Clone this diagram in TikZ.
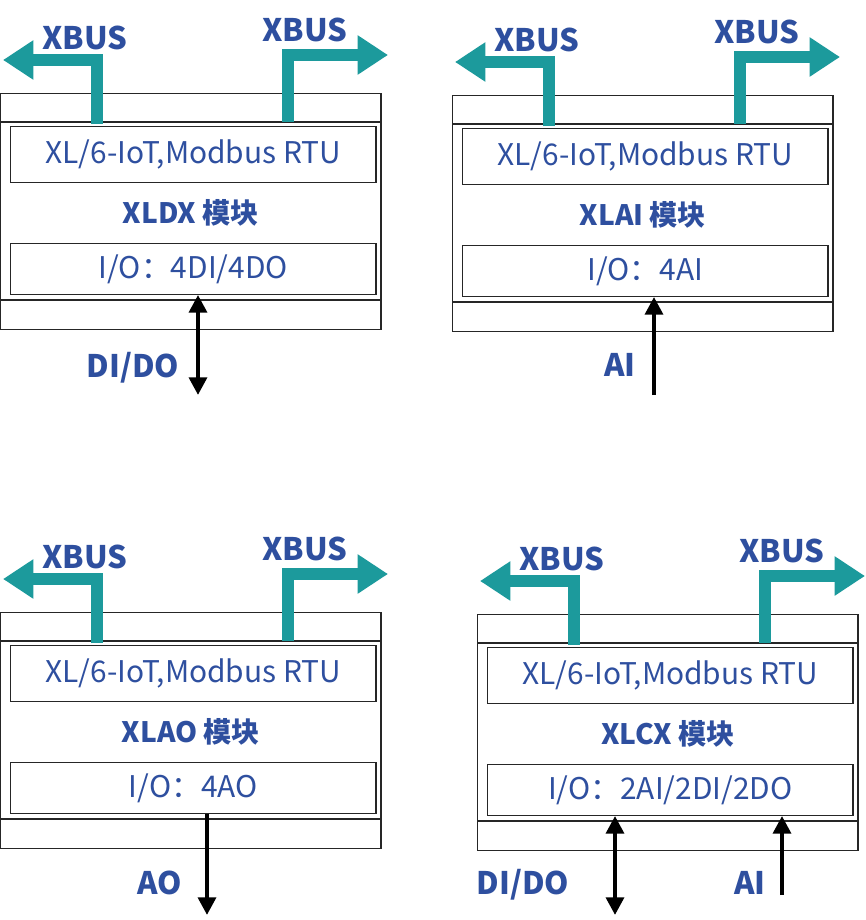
\documentclass[tikz,border=0pt]{standalone}
\usepackage{fontspec}
\setmainfont{Noto Sans CJK SC}
\usetikzlibrary{arrows.meta}
\definecolor{tblue}{HTML}{2E4F9F}
\definecolor{teal2}{HTML}{1C9A9C}
\tikzset{
 outerbox/.style={draw=black!85,line width=1pt,minimum width=382*0.85pt,minimum height=237*0.85pt,inner sep=0,anchor=north west},
 innerbox/.style={draw=black!85,line width=1pt,minimum width=367*0.85pt,inner sep=0,anchor=north west,text=tblue,font=\fontsize{25.5}{28}\selectfont},
 title/.style={text=tblue,font=\bfseries\fontsize{24}{28}\selectfont},
 lab/.style={text=tblue,font=\bfseries\fontsize{26.5}{30}\selectfont},
 bus/.style={draw=teal2,line width=9.5pt,line join=miter,-{Triangle[length=26pt,width=32pt]}},
 sig/.style={draw=black,line width=3.6pt,-{Triangle[length=15pt,width=15pt]}},
 sig2/.style={draw=black,line width=3.6pt,{Triangle[length=15pt,width=15pt]}-{Triangle[length=15pt,width=15pt]}}
}
\newcommand\modul[5]{%
 \begin{scope}[shift={(#2,-#3)}]
  \node[outerbox] (#1o) at (0,0) {};
  \draw[black!85,line width=1pt] (0,-29) -- (382,-29) (0,-207) -- (382,-207);
  \node[innerbox,minimum height=56*0.85pt] (#1a) at (10,-33) {XL/6-IoT,Modbus RTU};
  \node[title] (#1t) at (191,-120) {#4};
  \node[innerbox,minimum height=51*0.85pt] (#1b) at (10,-150) {#5};
  \coordinate (#1l) at (97,-31); \coordinate (#1lc) at (97,33); \coordinate (#1lt) at (3,33);
  \coordinate (#1r) at (288,-29); \coordinate (#1rc) at (288,38); \coordinate (#1rt) at (388,38);
  \draw[bus] (#1l) -- (#1lc) -- (#1lt);
  \draw[bus] (#1r) -- (#1rc) -- (#1rt);
  \node[lab] (#1xl) at (85,55) {XBUS};
  \node[lab] (#1xr) at (305,63) {XBUS};
 \end{scope}}
\begin{document}
\begin{tikzpicture}[x=0.03cm,y=0.03cm]
\useasboundingbox (0,0) rectangle (866,-920);
\modul{A}{0}{93}{XLDX 模块}{I/O：4DI/4DO}
\modul{B}{452}{95}{XLAI 模块}{I/O：4AI}
\modul{C}{0}{612}{XLAO 模块}{I/O：4AO}
\modul{D}{477}{614}{XLCX 模块}{I/O：2AI/2DI/2DO}
\coordinate (a1) at (198,-395);
\draw[sig2] (a1) -- (a1 |- Ab.south);
\node[lab] at (133,-368) {DI/DO};
\coordinate (b1) at (654,-395);
\draw[sig] (b1) -- (b1 |- Bb.south);
\node[lab] at (620,-365) {AI};
\coordinate (c1) at (207,-915);
\draw[sig] (c1 |- Cb.south) -- (c1);
\node[lab] at (160,-883) {AO};
\coordinate (d1) at (615,-915);
\draw[sig2] (d1) -- (d1 |- Db.south);
\node[lab] at (523,-885) {DI/DO};
\coordinate (d2) at (782,-895);
\draw[sig] (d2) -- (d2 |- Db.south);
\node[lab] at (750,-883) {AI};
\end{tikzpicture}
\end{document}
